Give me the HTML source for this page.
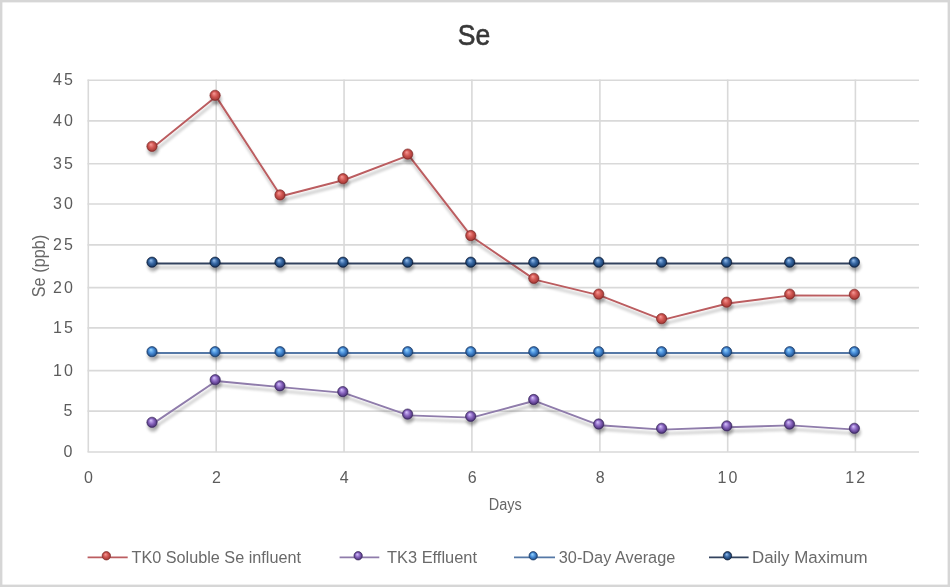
<!DOCTYPE html>
<html><head><meta charset="utf-8"><style>
html,body{margin:0;padding:0;background:#fff;}
body{width:950px;height:587px;overflow:hidden;position:relative;}
svg{position:absolute;left:0;top:0;filter:blur(0.7px);}
text{font-family:"Liberation Sans",sans-serif;}
</style></head><body>
<svg width="950" height="587" viewBox="0 0 950 587">
<defs>
<filter id="sh" filterUnits="userSpaceOnUse" x="0" y="0" width="950" height="587">
<feGaussianBlur in="SourceAlpha" stdDeviation="1.6"/>
<feOffset dx="1" dy="3.5" result="b"/>
<feComponentTransfer><feFuncA type="linear" slope="0.28"/></feComponentTransfer>
<feMerge><feMergeNode/><feMergeNode in="SourceGraphic"/></feMerge>
</filter>
<radialGradient id="gr" cx="0.5" cy="0.5" r="0.5" fx="0.38" fy="0.3">
<stop offset="0" stop-color="#f79c98"/><stop offset="0.5" stop-color="#d35a56"/><stop offset="0.85" stop-color="#b0403c"/><stop offset="1" stop-color="#7a2220"/></radialGradient>
<radialGradient id="gp" cx="0.5" cy="0.5" r="0.5" fx="0.38" fy="0.3">
<stop offset="0" stop-color="#d9c8ff"/><stop offset="0.5" stop-color="#8e6ac4"/><stop offset="0.85" stop-color="#5c3f8c"/><stop offset="1" stop-color="#2f1d50"/></radialGradient>
<radialGradient id="gb" cx="0.5" cy="0.5" r="0.5" fx="0.38" fy="0.3">
<stop offset="0" stop-color="#9fdcff"/><stop offset="0.5" stop-color="#4a90dc"/><stop offset="0.85" stop-color="#2a5f9e"/><stop offset="1" stop-color="#14345e"/></radialGradient>
<radialGradient id="gn" cx="0.5" cy="0.5" r="0.5" fx="0.38" fy="0.3">
<stop offset="0" stop-color="#9cc4f0"/><stop offset="0.5" stop-color="#3a6aa6"/><stop offset="0.85" stop-color="#1e4474"/><stop offset="1" stop-color="#0b1c38"/></radialGradient>
</defs>
<rect x="1.2" y="1.2" width="947.6" height="584.6" fill="#fff" stroke="#d6d6d6" stroke-width="2.4"/>
<g stroke="#d9d9d9" stroke-width="1.6">
<line x1="87.5" y1="80.3" x2="919" y2="80.3"/>
<line x1="87.5" y1="120.9" x2="919" y2="120.9"/>
<line x1="87.5" y1="163.7" x2="919" y2="163.7"/>
<line x1="87.5" y1="204.0" x2="919" y2="204.0"/>
<line x1="87.5" y1="244.9" x2="919" y2="244.9"/>
<line x1="87.5" y1="287.6" x2="919" y2="287.6"/>
<line x1="87.5" y1="327.9" x2="919" y2="327.9"/>
<line x1="87.5" y1="370.6" x2="919" y2="370.6"/>
<line x1="87.5" y1="411.1" x2="919" y2="411.1"/>
<line x1="87.5" y1="452.0" x2="919" y2="452.0"/>
<line x1="88.3" y1="79.5" x2="88.3" y2="452"/>
<line x1="216.2" y1="79.5" x2="216.2" y2="452"/>
<line x1="344.05" y1="79.5" x2="344.05" y2="452"/>
<line x1="471.9" y1="79.5" x2="471.9" y2="452"/>
<line x1="599.9" y1="79.5" x2="599.9" y2="452"/>
<line x1="727.7" y1="79.5" x2="727.7" y2="452"/>
<line x1="855.4" y1="79.5" x2="855.4" y2="452"/>
</g>
<text transform="translate(474,44.5) scale(0.9,1)" text-anchor="middle" font-size="29.5" fill="#383838" stroke="#383838" stroke-width="0.6">Se</text>
<g font-size="16" fill="#5c5c5c">
<text x="73" y="85.2" text-anchor="end" textLength="20" lengthAdjust="spacing">45</text>
<text x="73" y="125.80000000000001" text-anchor="end" textLength="20" lengthAdjust="spacing">40</text>
<text x="73" y="168.6" text-anchor="end" textLength="20" lengthAdjust="spacing">35</text>
<text x="73" y="208.9" text-anchor="end" textLength="20" lengthAdjust="spacing">30</text>
<text x="73" y="249.8" text-anchor="end" textLength="20" lengthAdjust="spacing">25</text>
<text x="73" y="292.5" text-anchor="end" textLength="20" lengthAdjust="spacing">20</text>
<text x="73" y="332.79999999999995" text-anchor="end" textLength="20" lengthAdjust="spacing">15</text>
<text x="73" y="375.5" text-anchor="end" textLength="20" lengthAdjust="spacing">10</text>
<text x="72.3" y="416.0" text-anchor="end">5</text>
<text x="72.3" y="456.9" text-anchor="end">0</text>
<text x="88.5" y="483" text-anchor="middle">0</text>
<text x="216.39999999999998" y="483" text-anchor="middle">2</text>
<text x="344.25" y="483" text-anchor="middle">4</text>
<text x="472.09999999999997" y="483" text-anchor="middle">6</text>
<text x="600.1" y="483" text-anchor="middle">8</text>
<text x="727.5" y="483" text-anchor="middle" textLength="20" lengthAdjust="spacing">10</text>
<text x="855.1999999999999" y="483" text-anchor="middle" textLength="20" lengthAdjust="spacing">12</text>
</g>
<text x="505.2" y="509.8" text-anchor="middle" font-size="16" fill="#666" textLength="33" lengthAdjust="spacingAndGlyphs">Days</text>
<text transform="translate(44.6,266) rotate(-90)" text-anchor="middle" font-size="17.8" fill="#666" textLength="62.5" lengthAdjust="spacingAndGlyphs">Se (ppb)</text>
<polyline points="153.0,147.6 216.1,96.6 281.0,196.2 344.0,180.0 408.7,155.4 471.8,236.8 534.8,279.6 599.7,295.4 662.6,319.9 727.6,303.5 790.7,295.4 855.4,295.6" fill="none" stroke="#bb5d60" stroke-width="1.95" stroke-linejoin="round" filter="url(#sh)"/>
<g filter="url(#sh)"><circle cx="152.0" cy="146.3" r="5.15" fill="url(#gr)" stroke="#8a3230" stroke-width="0.7"/>
<circle cx="215.1" cy="95.3" r="5.15" fill="url(#gr)" stroke="#8a3230" stroke-width="0.7"/>
<circle cx="280.0" cy="194.9" r="5.15" fill="url(#gr)" stroke="#8a3230" stroke-width="0.7"/>
<circle cx="343.0" cy="178.7" r="5.15" fill="url(#gr)" stroke="#8a3230" stroke-width="0.7"/>
<circle cx="407.7" cy="154.1" r="5.15" fill="url(#gr)" stroke="#8a3230" stroke-width="0.7"/>
<circle cx="470.8" cy="235.5" r="5.15" fill="url(#gr)" stroke="#8a3230" stroke-width="0.7"/>
<circle cx="533.8" cy="278.3" r="5.15" fill="url(#gr)" stroke="#8a3230" stroke-width="0.7"/>
<circle cx="598.7" cy="294.1" r="5.15" fill="url(#gr)" stroke="#8a3230" stroke-width="0.7"/>
<circle cx="661.6" cy="318.6" r="5.15" fill="url(#gr)" stroke="#8a3230" stroke-width="0.7"/>
<circle cx="726.6" cy="302.2" r="5.15" fill="url(#gr)" stroke="#8a3230" stroke-width="0.7"/>
<circle cx="789.7" cy="294.1" r="5.15" fill="url(#gr)" stroke="#8a3230" stroke-width="0.7"/>
<circle cx="854.4" cy="294.3" r="5.15" fill="url(#gr)" stroke="#8a3230" stroke-width="0.7"/></g>
<polyline points="153.0,423.6 216.2,381.0 280.9,387.1 343.8,392.9 408.6,415.4 471.7,417.6 534.7,400.8 599.7,425.3 662.6,429.6 727.8,427.2 790.5,425.4 855.4,429.6" fill="none" stroke="#8f7cab" stroke-width="1.95" stroke-linejoin="round" filter="url(#sh)"/>
<g filter="url(#sh)"><circle cx="152.0" cy="422.3" r="5.15" fill="url(#gp)" stroke="#45306a" stroke-width="0.7"/>
<circle cx="215.2" cy="379.7" r="5.15" fill="url(#gp)" stroke="#45306a" stroke-width="0.7"/>
<circle cx="279.9" cy="385.8" r="5.15" fill="url(#gp)" stroke="#45306a" stroke-width="0.7"/>
<circle cx="342.8" cy="391.6" r="5.15" fill="url(#gp)" stroke="#45306a" stroke-width="0.7"/>
<circle cx="407.6" cy="414.1" r="5.15" fill="url(#gp)" stroke="#45306a" stroke-width="0.7"/>
<circle cx="470.7" cy="416.3" r="5.15" fill="url(#gp)" stroke="#45306a" stroke-width="0.7"/>
<circle cx="533.7" cy="399.5" r="5.15" fill="url(#gp)" stroke="#45306a" stroke-width="0.7"/>
<circle cx="598.7" cy="424.0" r="5.15" fill="url(#gp)" stroke="#45306a" stroke-width="0.7"/>
<circle cx="661.6" cy="428.3" r="5.15" fill="url(#gp)" stroke="#45306a" stroke-width="0.7"/>
<circle cx="726.8" cy="425.9" r="5.15" fill="url(#gp)" stroke="#45306a" stroke-width="0.7"/>
<circle cx="789.5" cy="424.1" r="5.15" fill="url(#gp)" stroke="#45306a" stroke-width="0.7"/>
<circle cx="854.4" cy="428.3" r="5.15" fill="url(#gp)" stroke="#45306a" stroke-width="0.7"/></g>
<polyline points="153.0,353.0 216.1,353.0 281.0,353.0 344.0,353.0 408.7,353.0 471.8,353.0 534.8,353.0 599.7,353.0 662.6,353.0 727.6,353.0 790.7,353.0 855.4,353.0" fill="none" stroke="#5578a6" stroke-width="1.95" stroke-linejoin="round" filter="url(#sh)"/>
<g filter="url(#sh)"><circle cx="152.0" cy="351.7" r="5.15" fill="url(#gb)" stroke="#1d3f6e" stroke-width="0.7"/>
<circle cx="215.1" cy="351.7" r="5.15" fill="url(#gb)" stroke="#1d3f6e" stroke-width="0.7"/>
<circle cx="280.0" cy="351.7" r="5.15" fill="url(#gb)" stroke="#1d3f6e" stroke-width="0.7"/>
<circle cx="343.0" cy="351.7" r="5.15" fill="url(#gb)" stroke="#1d3f6e" stroke-width="0.7"/>
<circle cx="407.7" cy="351.7" r="5.15" fill="url(#gb)" stroke="#1d3f6e" stroke-width="0.7"/>
<circle cx="470.8" cy="351.7" r="5.15" fill="url(#gb)" stroke="#1d3f6e" stroke-width="0.7"/>
<circle cx="533.8" cy="351.7" r="5.15" fill="url(#gb)" stroke="#1d3f6e" stroke-width="0.7"/>
<circle cx="598.7" cy="351.7" r="5.15" fill="url(#gb)" stroke="#1d3f6e" stroke-width="0.7"/>
<circle cx="661.6" cy="351.7" r="5.15" fill="url(#gb)" stroke="#1d3f6e" stroke-width="0.7"/>
<circle cx="726.6" cy="351.7" r="5.15" fill="url(#gb)" stroke="#1d3f6e" stroke-width="0.7"/>
<circle cx="789.7" cy="351.7" r="5.15" fill="url(#gb)" stroke="#1d3f6e" stroke-width="0.7"/>
<circle cx="854.4" cy="351.7" r="5.15" fill="url(#gb)" stroke="#1d3f6e" stroke-width="0.7"/></g>
<polyline points="153.0,263.5 216.1,263.5 281.0,263.5 344.0,263.5 408.7,263.5 471.8,263.5 534.8,263.5 599.7,263.5 662.6,263.5 727.6,263.5 790.7,263.5 855.4,263.5" fill="none" stroke="#33435e" stroke-width="1.95" stroke-linejoin="round" filter="url(#sh)"/>
<g filter="url(#sh)"><circle cx="152.0" cy="262.2" r="5.15" fill="url(#gn)" stroke="#0e213f" stroke-width="0.7"/>
<circle cx="215.1" cy="262.2" r="5.15" fill="url(#gn)" stroke="#0e213f" stroke-width="0.7"/>
<circle cx="280.0" cy="262.2" r="5.15" fill="url(#gn)" stroke="#0e213f" stroke-width="0.7"/>
<circle cx="343.0" cy="262.2" r="5.15" fill="url(#gn)" stroke="#0e213f" stroke-width="0.7"/>
<circle cx="407.7" cy="262.2" r="5.15" fill="url(#gn)" stroke="#0e213f" stroke-width="0.7"/>
<circle cx="470.8" cy="262.2" r="5.15" fill="url(#gn)" stroke="#0e213f" stroke-width="0.7"/>
<circle cx="533.8" cy="262.2" r="5.15" fill="url(#gn)" stroke="#0e213f" stroke-width="0.7"/>
<circle cx="598.7" cy="262.2" r="5.15" fill="url(#gn)" stroke="#0e213f" stroke-width="0.7"/>
<circle cx="661.6" cy="262.2" r="5.15" fill="url(#gn)" stroke="#0e213f" stroke-width="0.7"/>
<circle cx="726.6" cy="262.2" r="5.15" fill="url(#gn)" stroke="#0e213f" stroke-width="0.7"/>
<circle cx="789.7" cy="262.2" r="5.15" fill="url(#gn)" stroke="#0e213f" stroke-width="0.7"/>
<circle cx="854.4" cy="262.2" r="5.15" fill="url(#gn)" stroke="#0e213f" stroke-width="0.7"/></g>
<g font-size="16.3" fill="#6a6a6a">
<line x1="87.6" y1="557.3" x2="127.7" y2="557.3" stroke="#bb5d60" stroke-width="1.7"/>
<circle cx="106.35000000000001" cy="555.8" r="4.2" fill="url(#gr)" stroke="#8a3230" stroke-width="0.7"/>
<text x="131.5" y="562.5" textLength="169.5" lengthAdjust="spacingAndGlyphs">TK0 Soluble Se influent</text>
<line x1="339.6" y1="557.3" x2="379.3" y2="557.3" stroke="#8f7cab" stroke-width="1.7"/>
<circle cx="358.15000000000003" cy="555.8" r="4.2" fill="url(#gp)" stroke="#45306a" stroke-width="0.7"/>
<text x="387.0" y="562.5" textLength="90" lengthAdjust="spacingAndGlyphs">TK3 Effluent</text>
<line x1="514" y1="557.3" x2="555" y2="557.3" stroke="#5578a6" stroke-width="1.7"/>
<circle cx="533.2" cy="555.8" r="4.2" fill="url(#gb)" stroke="#1d3f6e" stroke-width="0.7"/>
<text x="558.8" y="562.5" textLength="116.5" lengthAdjust="spacingAndGlyphs">30-Day Average</text>
<line x1="709" y1="557.3" x2="748.6" y2="557.3" stroke="#33435e" stroke-width="1.7"/>
<circle cx="727.5" cy="555.8" r="4.2" fill="url(#gn)" stroke="#0e213f" stroke-width="0.7"/>
<text x="752.0" y="562.5" textLength="115.5" lengthAdjust="spacingAndGlyphs">Daily Maximum</text>
</g>
</svg>
</body></html>
